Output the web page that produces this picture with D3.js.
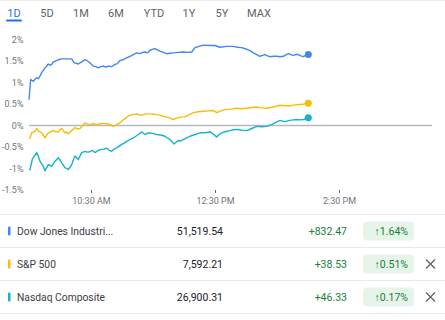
<!DOCTYPE html>
<html>
<head>
<meta charset="utf-8">
<script src="https://cdn.jsdelivr.net/npm/d3@7"></script>
<style>
  body { margin: 0; background: #fff; font-family: Roboto, "Noto Sans", sans-serif; }
  svg { display: block; }
</style>
</head>
<body>
<svg></svg>
<script>
const width = 445;
const height = 320;

// Range tabs
const tabs = ["1D", "5D", "1M", "6M", "YTD", "1Y", "5Y", "MAX"];
const tabX = [14, 47, 81, 116, 154, 189, 222, 259];

// Percent ticks and time ticks
const yTicks = [2, 1.5, 1, 0.5, 0, -0.5, -1, -1.5];
const yTickLabels = ["2%", "1.5%", "1%", "0.5%", "0%", "-0.5%", "-1%", "-1.5%"];
const xTicks = ["10:30", "12:30", "14:30"];
const xTickLabels = ["10:30 AM", "12:30 PM", "2:30 PM"];

// Intraday % change, [minutes since 9:30, percent]
const dow = [[0,0.60],[1.6,1.07],[2.8,1.05],[4.2,1.03],[6,1.08],[7.5,1.11],[9,1.09],[10.6,1.15],[12.3,1.23],[13.8,1.28],
  [15.5,1.34],[17.1,1.38],[18.7,1.43],[20.4,1.40],[22,1.42],[23.5,1.48],[26,1.50],[28.4,1.53],[31.6,1.55],[36,1.55],
  [41.3,1.55],[43.5,1.46],[45.5,1.45],[47.7,1.43],[51,1.48],[54.2,1.53],[56.6,1.50],[59,1.46],[62.2,1.38],[64.6,1.37],
  [67,1.34],[69.4,1.37],[71.9,1.38],[74.3,1.36],[76.7,1.38],[80,1.37],[83.2,1.42],[85.6,1.44],[88,1.51],[91,1.53],
  [94.5,1.57],[97.7,1.61],[100.9,1.65],[104.2,1.69],[107.4,1.67],[110,1.70],[112.3,1.71],[114.7,1.69],[117.1,1.75],[119.5,1.77],
  [121.9,1.79],[124.3,1.76],[126.8,1.73],[130,1.70],[133.3,1.67],[136.5,1.68],[139.6,1.69],[144.5,1.70],[149.3,1.71],[153.4,1.70],
  [157.5,1.71],[160.6,1.81],[164.6,1.84],[168.7,1.87],[174.3,1.86],[180,1.86],[184.8,1.82],[191.3,1.84],[197.7,1.84],[201.8,1.82],
  [205.8,1.81],[209.9,1.78],[213.9,1.74],[217.2,1.69],[220.4,1.65],[223.5,1.61],[226,1.63],[228.4,1.65],[230.8,1.62],[233.2,1.60],
  [236.4,1.61],[239.7,1.61],[242.9,1.60],[246.1,1.61],[248.6,1.64],[251,1.67],[253.4,1.65],[255.8,1.63],[258.2,1.65],[260.6,1.65],
  [263,1.62],[265.5,1.60],[267.9,1.63],[270.3,1.65]];

const sp500 = [[0,-0.30],[1,-0.29],[2.6,-0.17],[4.2,-0.15],[5.8,-0.13],[7.5,-0.07],[9,-0.13],[10.6,-0.15],[12.3,-0.17],[13.9,-0.22],
  [15.5,-0.29],[17.1,-0.22],[18.7,-0.17],[21.1,-0.14],[23.5,-0.12],[26,-0.14],[28.4,-0.15],[30,-0.10],[31.6,-0.07],[33.2,-0.12],
  [34.8,-0.17],[36.4,-0.15],[38,-0.19],[39.7,-0.15],[41.3,-0.12],[42.9,-0.08],[44.5,-0.05],[47,-0.08],[49.4,-0.07],[51,-0.03],
  [52.5,0.02],[54.2,0.06],[56.6,0.03],[59,0.02],[62.2,0.04],[65.5,0.02],[68.7,0.04],[72,0.05],[75.2,0.04],[78.4,0.02],
  [81.6,-0.02],[84.9,0.02],[87.3,0.05],[89.7,0.10],[92.9,0.16],[96.1,0.22],[98.5,0.24],[100.9,0.26],[104.2,0.27],[106.6,0.25],
  [109.1,0.24],[111.5,0.26],[113.9,0.27],[117.1,0.27],[122,0.26],[126.8,0.24],[130.8,0.21],[134.8,0.19],[137.2,0.16],[139.6,0.14],
  [142.8,0.17],[146.1,0.19],[149.3,0.20],[152.6,0.22],[155.8,0.26],[159,0.30],[163.9,0.32],[168.7,0.33],[173.5,0.34],[178.4,0.35],
  [181.6,0.30],[185.6,0.34],[189.7,0.37],[195.3,0.38],[201,0.40],[205.8,0.39],[210.7,0.40],[215.5,0.42],[220.4,0.43],[225.2,0.41],
  [230,0.40],[236.5,0.43],[242.9,0.47],[247.7,0.46],[252.6,0.46],[257.4,0.48],[262.3,0.49],[266.3,0.50],[270.3,0.52]];

const nasdaq = [[0,-1.03],[1,-1.02],[3.2,-0.79],[5.1,-0.71],[7.5,-0.63],[9,-0.71],[10.6,-0.83],[13.8,-0.95],[15.5,-1.05],[17.1,-0.98],
  [18.7,-0.91],[20.4,-0.93],[22,-0.95],[25.2,-0.83],[28.4,-0.75],[30,-0.80],[31.6,-0.87],[34.8,-0.98],[38,-1.02],[39.7,-0.97],
  [41.3,-0.91],[42.9,-0.80],[44.5,-0.71],[47.7,-0.79],[51,-0.63],[54.2,-0.60],[56.6,-0.62],[59,-0.61],[61.5,-0.58],[63.9,-0.63],
  [66.3,-0.59],[68.7,-0.56],[72,-0.55],[75.2,-0.53],[77.6,-0.57],[80,-0.60],[82.4,-0.55],[84.9,-0.52],[87.3,-0.48],[89.7,-0.44],
  [92.1,-0.41],[94.5,-0.37],[97.7,-0.33],[100.9,-0.29],[103.4,-0.25],[105.8,-0.21],[109.1,-0.15],[112.3,-0.21],[114.7,-0.18],[117.1,-0.17],
  [120.4,-0.19],[123.6,-0.21],[127.6,-0.22],[131.6,-0.25],[134,-0.29],[136.5,-0.33],[138.4,-0.38],[140.3,-0.43],[142.4,-0.39],[144.5,-0.35],
  [146.9,-0.36],[149.3,-0.33],[152.6,-0.29],[155.8,-0.25],[160.7,-0.21],[165.5,-0.17],[170.4,-0.17],[175.2,-0.15],[178.4,-0.20],[181.6,-0.27],
  [184,-0.21],[186.5,-0.17],[190.5,-0.14],[194.5,-0.12],[197.8,-0.10],[201,-0.09],[205.9,-0.11],[210.7,-0.12],[215.5,-0.07],[220.4,-0.02],
  [225.2,-0.03],[230,-0.02],[234.9,0.02],[238.9,0.07],[242.9,0.12],[245.3,0.10],[247.7,0.09],[252.6,0.12],[255.8,0.13],[259,0.14],
  [262.2,0.13],[265.5,0.14],[268,0.16],[270.3,0.18]];

// Table rows
const names = ["Dow Jones Industri...", "S&P 500", "Nasdaq Composite"];
const prices = ["51,519.54", "7,592.21", "26,900.31"];
const changes = ["+832.47", "+38.53", "+46.33"];
const pctChanges = ["1.64%", "0.51%", "0.17%"];
const removable = [false, true, true];

const colors = ["#4285f4", "#fbbc04", "#12b5cb"];
const series = [dow, sp500, nasdaq];

const svg = d3.select("svg")
    .attr("width", width)
    .attr("height", height)
    .attr("viewBox", `0 0 ${width} ${height}`);

// Tabs
svg.append("line")
    .attr("x1", 0).attr("x2", width)
    .attr("y1", 0.5).attr("y2", 0.5)
    .attr("stroke", "#ececec");

svg.selectAll(".tab")
    .data(tabs)
    .join("text")
    .attr("x", (d, i) => tabX[i])
    .attr("y", 17)
    .attr("text-anchor", "middle")
    .attr("font-size", "11px")
    .attr("fill", (d, i) => i === 0 ? "#1a73e8" : "#5f6368")
    .text(d => d);

svg.append("rect")
    .attr("x", 6).attr("y", 19.5)
    .attr("width", 16).attr("height", 2)
    .attr("rx", 1)
    .attr("fill", "#1a73e8");

// Scales
const parseTime = d3.timeParse("%H:%M");
const open = parseTime("09:30");
const close = parseTime("16:00");
const toTime = m => new Date(open.getTime() + m * 60000);

const x = d3.scaleTime().domain([open, close]).range([29, 432]);
const y = d3.scaleLinear().domain([-1.5, 2]).range([190, 39.5]);

// Y axis labels
const yAxis = d3.axisLeft(y)
    .tickValues(yTicks)
    .tickSize(0)
    .tickPadding(0)
    .tickFormat((d, i) => yTickLabels[i]);

svg.append("g")
    .attr("transform", "translate(23.5,0)")
    .call(yAxis)
    .call(g => g.select(".domain").remove())
    .call(g => g.selectAll("text")
        .attr("font-family", "Roboto, sans-serif")
        .attr("font-size", "9px")
        .attr("fill", "#70757a"));

// X axis
const xAxis = d3.axisBottom(x)
    .tickValues(xTicks.map(parseTime))
    .tickSize(3)
    .tickPadding(5)
    .tickFormat((d, i) => xTickLabels[i]);

svg.append("g")
    .attr("transform", "translate(0,190)")
    .call(xAxis)
    .call(g => g.select(".domain").remove())
    .call(g => g.selectAll("line").attr("stroke", "#5f6368"))
    .call(g => g.selectAll("text")
        .attr("font-family", "Roboto, sans-serif")
        .attr("font-size", "9px")
        .attr("fill", "#70757a"));

// Zero line
svg.append("line")
    .attr("x1", x(open)).attr("x2", x(close))
    .attr("y1", y(0)).attr("y2", y(0))
    .attr("stroke", "#b5b8bc")
    .attr("stroke-width", 1.5);

// Lines
const line = d3.line()
    .x(d => x(toTime(d[0])))
    .y(d => y(d[1]));

series.forEach((s, i) => {
    svg.append("path")
        .datum(s)
        .attr("fill", "none")
        .attr("stroke", colors[i])
        .attr("stroke-width", 1.4)
        .attr("stroke-linejoin", "round")
        .attr("d", line);

    const last = s[s.length - 1];
    svg.append("circle")
        .attr("cx", x(toTime(last[0])))
        .attr("cy", y(last[1]))
        .attr("r", 3.5)
        .attr("fill", colors[i]);
});

// Table
const rowTop = 214.5;
const rowH = 33;

svg.append("line")
    .attr("x1", 0).attr("x2", width)
    .attr("y1", rowTop).attr("y2", rowTop)
    .attr("stroke", "#e8eaed");

names.forEach((name, i) => {
    const cy = rowTop + rowH * i + rowH / 2;
    const row = svg.append("g");

    row.append("rect")
        .attr("x", 8).attr("y", cy - 4.5)
        .attr("width", 2.5).attr("height", 9)
        .attr("rx", 1)
        .attr("fill", colors[i]);

    row.append("text")
        .attr("x", 17).attr("y", cy)
        .attr("dy", "0.35em")
        .attr("font-size", "10.3px")
        .attr("fill", "#3c4043")
        .text(name);

    row.append("text")
        .attr("x", 223).attr("y", cy)
        .attr("dy", "0.35em")
        .attr("text-anchor", "end")
        .attr("font-size", "10.5px")
        .attr("fill", "#202124")
        .text(prices[i]);

    row.append("text")
        .attr("x", 347).attr("y", cy)
        .attr("dy", "0.35em")
        .attr("text-anchor", "end")
        .attr("font-size", "10.5px")
        .attr("fill", "#188038")
        .text(changes[i]);

    row.append("rect")
        .attr("x", 363).attr("y", cy - 9.5)
        .attr("width", 51).attr("height", 19)
        .attr("rx", 4)
        .attr("fill", "#e6f4ea");

    row.append("text")
        .attr("x", 408).attr("y", cy)
        .attr("dy", "0.35em")
        .attr("text-anchor", "end")
        .attr("font-size", "10.5px")
        .attr("fill", "#188038")
        .text("\u2191" + pctChanges[i]);

    if (removable[i]) {
        row.append("path")
            .attr("d", `M${426},${cy - 4.5}L${435},${cy + 4.5}M${435},${cy - 4.5}L${426},${cy + 4.5}`)
            .attr("stroke", "#5f6368")
            .attr("stroke-width", 1.3);
    }

    svg.append("line")
        .attr("x1", 0).attr("x2", width)
        .attr("y1", rowTop + rowH * (i + 1)).attr("y2", rowTop + rowH * (i + 1))
        .attr("stroke", "#e8eaed");
});
</script>
</body>
</html>
